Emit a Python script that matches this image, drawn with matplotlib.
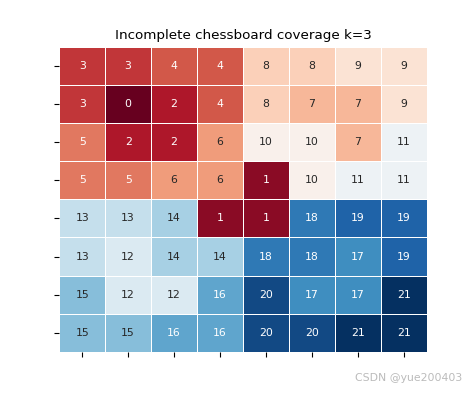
import matplotlib
matplotlib.use("Agg")
import matplotlib.pyplot as plt
import numpy as np
import seaborn as sns

# board labels, row by row (top to bottom)
row0 = [3, 3, 4, 4, 8, 8, 9, 9]
row1 = [3, 0, 2, 4, 8, 7, 7, 9]
row2 = [5, 2, 2, 6, 10, 10, 7, 11]
row3 = [5, 5, 6, 6, 1, 10, 11, 11]
row4 = [13, 13, 14, 1, 1, 18, 19, 19]
row5 = [13, 12, 14, 14, 18, 18, 17, 19]
row6 = [15, 12, 12, 16, 20, 17, 17, 21]
row7 = [15, 15, 16, 16, 20, 20, 21, 21]

board = np.array([row0, row1, row2, row3, row4, row5, row6, row7])

fig = plt.figure(figsize=(4.74, 3.95), dpi=100)
ax = fig.add_subplot(111)
sns.heatmap(board, annot=True, fmt="d", cmap="RdBu", cbar=False,
            linewidths=0.6, linecolor="white", ax=ax, annot_kws={"fontsize": 7.8})
ax.set_xticklabels([])
ax.set_yticklabels([])
ax.set_title("Incomplete chessboard coverage k=3", fontsize=9.7)

fig.text(0.975, 0.03, "CSDN @yue200403", ha="right", va="bottom",
         fontsize=7.8, color="#bbbbbb")

fig.savefig("out.png", dpi=100)
